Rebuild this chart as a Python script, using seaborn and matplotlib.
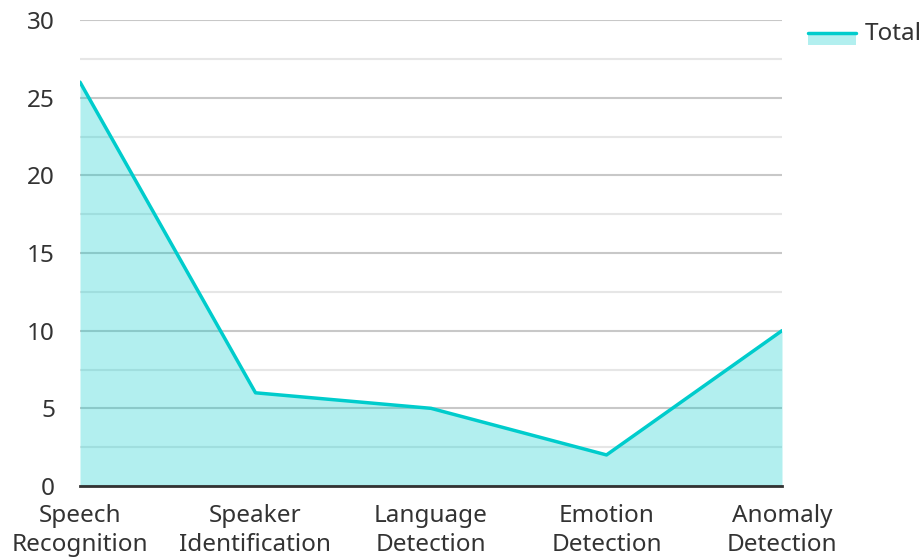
import matplotlib
matplotlib.use("Agg")
import matplotlib.pyplot as plt
import seaborn as sns
import pandas as pd
from matplotlib.lines import Line2D
from matplotlib.patches import Rectangle

categories = ["Speech\nRecognition", "Speaker\nIdentification", "Language\nDetection",
              "Emotion\nDetection", "Anomaly\nDetection"]
totals = [26, 6, 5, 2, 10]
y_ticks = [0, 5, 10, 15, 20, 25, 30]

sns.set_style("white")
plt.rcParams['font.family'] = ['Noto Sans', 'DejaVu Sans']

df = pd.DataFrame({"category": categories, "total": totals, "pos": range(len(categories))})

FS = 17.5
fig = plt.figure(figsize=(9.23, 5.6), dpi=100)
ax = fig.add_axes([80/923, 1 - 486/560, (782-80)/923, (486-20)/560])

line_color = "#00cccc"
ax.fill_between(df["pos"], df["total"], 0, color=line_color, alpha=0.3, linewidth=0, zorder=2)
sns.lineplot(data=df, x="pos", y="total", color=line_color, linewidth=2.5, ax=ax, zorder=3)

ax.set_xlim(0, len(categories) - 1)
ax.set_ylim(0, 30)
ax.set_yticks(y_ticks)
ax.set_yticks([2.5, 7.5, 12.5, 17.5, 22.5, 27.5], minor=True)
ax.set_xticks(df["pos"])
ax.set_xticklabels(categories)
ax.set_axisbelow(True)
ax.grid(True, axis="y", which="major", color="#c8c8c8", linewidth=1.5)
ax.grid(True, axis="y", which="minor", color="#e6e6e6", linewidth=1.5)
ax.grid(False, axis="x")
for s in ["top", "right", "left"]:
    ax.spines[s].set_visible(False)
ax.spines["bottom"].set_color("#333333")
ax.spines["bottom"].set_linewidth(2)
ax.spines["bottom"].set_zorder(4)
ax.tick_params(axis="both", which="both", length=0, labelsize=FS, colors="#333333")
ax.tick_params(axis="y", pad=18)
ax.tick_params(axis="x", pad=13)
for lbl in ax.get_xticklabels():
    lbl.set_linespacing(1.3)
ax.set_xlabel("")
ax.set_ylabel("")


class AreaHandler:
    def legend_artist(self, legend, orig_handle, fontsize, handlebox):
        x0, y0 = handlebox.xdescent, handlebox.ydescent
        w, h = handlebox.width, handlebox.height
        cy = y0 + h / 2
        rect = Rectangle((x0, cy - 9.5), w, 9.5, facecolor=line_color, alpha=0.3,
                         edgecolor="none", transform=handlebox.get_transform())
        ln = Line2D([x0, x0 + w], [cy - 0.5, cy - 0.5], color=line_color, linewidth=2.5,
                    transform=handlebox.get_transform())
        handlebox.add_artist(rect)
        handlebox.add_artist(ln)
        return rect


proxy = Rectangle((0, 0), 1, 1)
leg = fig.legend([proxy], ["Total"], loc="upper left", bbox_to_anchor=(786/923, 1 - 0.5/560),
                 frameon=False, fontsize=FS, handlelength=2.0, handleheight=0.7,
                 handletextpad=0.35, handler_map={Rectangle: AreaHandler()})
for t in leg.get_texts():
    t.set_color("#333333")

fig.savefig("out.png", dpi=100)
